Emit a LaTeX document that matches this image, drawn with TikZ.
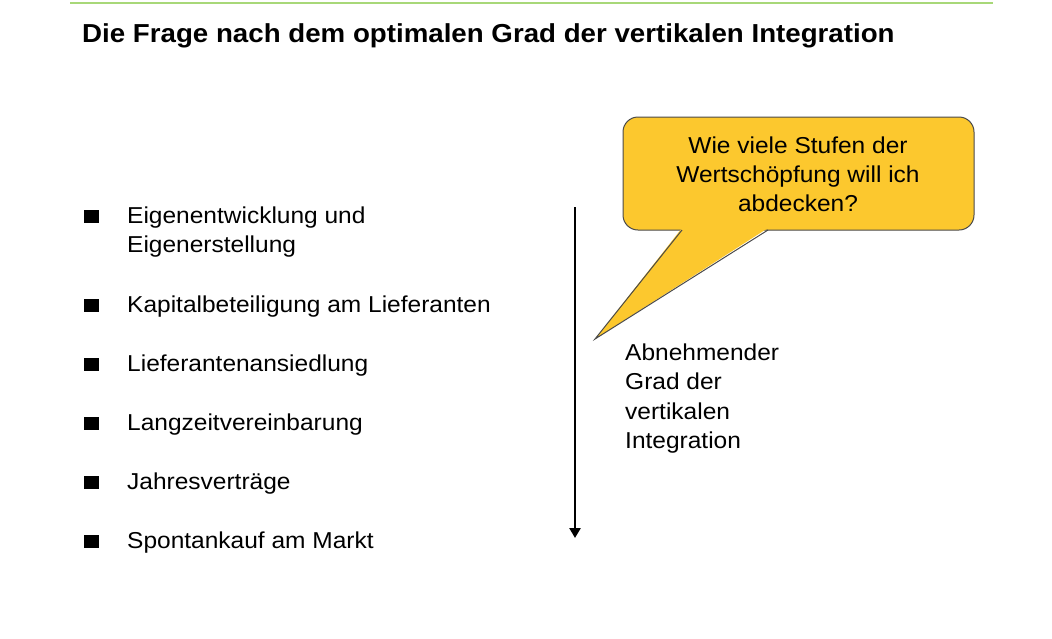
\documentclass[tikz,border=0pt]{standalone}
\usepackage{fontspec}
\setmainfont[FakeStretch=1.065]{Liberation Sans}
\usetikzlibrary{arrows.meta}
\definecolor{topgreen}{HTML}{A8D878}
\definecolor{callfill}{HTML}{FCC82E}
\definecolor{callline}{HTML}{4A4A4A}
\begin{document}
\begin{tikzpicture}[x=1pt,y=-1pt,
  txt/.style={anchor=base west,inner sep=0pt,font=\fontsize{23}{29}\selectfont},
  bul/.style={fill=black,minimum width=15pt,minimum height=13pt,inner sep=0pt},
  calltxt/.style={anchor=base,inner sep=0pt,font=\fontsize{23}{29}\selectfont}]
\useasboundingbox (0,0) rectangle (1052,638);
\draw[topgreen,line width=2pt] (70,3) -- (993,3);
\node[anchor=base west,inner sep=0pt,font=\fontsize{26}{30}\selectfont\bfseries] (title) at (82,42) {Die Frage nach dem optimalen Grad der vertikalen Integration};
% bullets
\node[bul] (b1) at (91.5,216.5) {};
\node[txt] (t1) at (127,223) {Eigenentwicklung und};
\node[txt] (t1b) at (127,252) {Eigenerstellung};
\node[bul] (b2) at (91.5,305.5) {};
\node[txt] (t2) at (127,312) {Kapitalbeteiligung am Lieferanten};
\node[bul] (b3) at (91.5,364.5) {};
\node[txt] (t3) at (127,371) {Lieferantenansiedlung};
\node[bul] (b4) at (91.5,423.5) {};
\node[txt] (t4) at (127,430) {Langzeitvereinbarung};
\node[bul] (b5) at (91.5,482.5) {};
\node[txt] (t5) at (127,489) {Jahresverträge};
\node[bul] (b6) at (91.5,541.5) {};
\node[txt] (t6) at (127,548) {Spontankauf am Markt};
% arrow
\coordinate (atop) at (575,207);
\coordinate (abot) at (575,538);
\draw[line width=2.8pt,-{Triangle[length=10pt,width=11pt]}] (atop) -- (abot);
% right text
\node[txt] (r1) at (625,360) {Abnehmender};
\node[txt] (r2) at (625,389) {Grad der};
\node[txt] (r3) at (625,419) {vertikalen};
\node[txt] (r4) at (625,448) {Integration};
% callout
\node[draw=callline,fill=callfill,line width=1pt,rounded corners=15pt,minimum width=351pt,minimum height=113pt,inner sep=0pt] (call) at (798.5,173.5) {};
\coordinate (tip) at (595,339);
\coordinate (tl) at (682,230);
\coordinate (tr) at (768,230);
\fill[callfill] (682,228) -- (tip) -- (768,228) -- cycle;
\draw[callline,line width=1pt] (tl) -- (tip) -- (tr);
\node[calltxt] (ct1) at (798,153) {Wie viele Stufen der};
\node[calltxt] (ct2) at (798,182) {Wertschöpfung will ich};
\node[calltxt] (ct3) at (798,211) {abdecken?};
\end{tikzpicture}
\end{document}
